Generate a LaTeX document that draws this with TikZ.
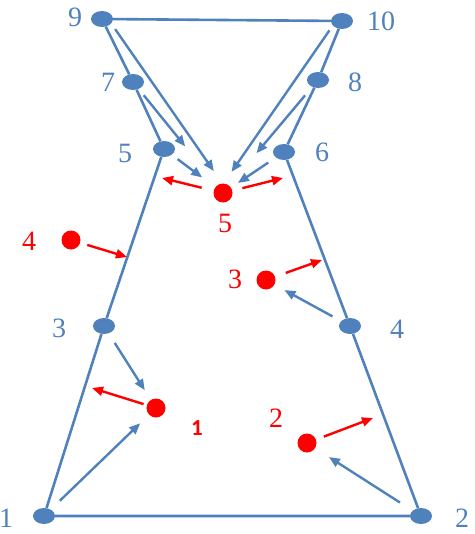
\documentclass[tikz,border=0pt]{standalone}
\usepackage{fontspec}
\setmainfont{Liberation Serif}
\newfontfamily\numfont{Carlito}
\usetikzlibrary{calc,arrows.meta,shapes.geometric}
\definecolor{cus-blue}{RGB}{79,129,189}
\definecolor{cus-red}{RGB}{255,0,0}

\begin{document}
\begin{tikzpicture}[x=1pt,y=-1pt,
	bdot/.style={ellipse,fill=cus-blue,minimum width=22pt,minimum height=16pt,inner sep=0pt},
	rdot/.style={circle,fill=cus-red,minimum size=19pt,inner sep=0pt},
	blab/.style={text=cus-blue,anchor=base,inner sep=0pt,font=\fontsize{28}{30}\selectfont},
	rlab/.style={text=cus-red,anchor=base,inner sep=0pt,font=\fontsize{28}{30}\selectfont},
	edge/.style={draw=cus-blue,line width=2.6pt},
	flow/.style={draw=cus-blue,line width=2.4pt,-{Triangle[length=11pt,width=9pt]}},
	push/.style={draw=cus-red,line width=2.4pt,-{Triangle[length=11pt,width=9pt]}}]
\useasboundingbox (0,0) rectangle (474,534);
\foreach \n/\x/\y in {1/44/516,2/421/516,3/104/326,4/350/326,5/164/149,6/284/152,7/133/82,8/318/80,9/102/19,10/342/21}{
	\node[bdot] (b\n) at (\x,\y) {};
}
\foreach \n/\x/\y in {1/6/527,2/462/527,3/59/337,4/397/338,5/125/163,6/322/162,7/108/92,8/355/92,9/75/27,10/381/31}{
	\node[blab] (lb\n) at (\x,\y) {\n};
}
\foreach \n/\x/\y in {1/156/408,2/307/443,3/266/280,4/71/240,5/223/193}{
	\node[rdot] (r\n) at (\x,\y) {};
}
\foreach \n/\x/\y in {2/276/427,3/235/288,4/29/250,5/225/233}{
	\node[rlab] (lr\n) at (\x,\y) {\n};
}
\node[rlab,font=\numfont\bfseries\fontsize{23}{25}\selectfont] (lr1) at (197,435) {1};
\draw[edge] (b1) -- (b3) -- (b5) -- (b7) -- (b9) -- (b10) -- (b8) -- (b6) -- (b4) -- (b2) -- (b1);
\draw[flow,shorten <=16pt,shorten >=23pt,transform canvas={shift={(4pt,3pt)}}] (b9.center) -- (r5.center);
\draw[flow,shorten <=17pt,shorten >=60pt] (b7.center) -- (r5.center);
\draw[flow,shorten <=17pt,shorten >=26pt] (b5.center) -- (r5.center);
\draw[flow,shorten <=15pt,shorten >=22pt,transform canvas={shift={(-4pt,3pt)}}] (b10.center) -- (r5.center);
\draw[flow,shorten <=20pt,shorten >=52pt] (b8.center) -- (r5.center);
\draw[flow,shorten <=19pt,shorten >=18pt] (b6.center) -- (r5.center);
\draw[flow,shorten <=20pt,shorten >=21pt] (b3.center) -- (r1.center);
\draw[flow,shorten <=22pt,shorten >=22pt] (b1.center) -- (r1.center);
\draw[flow,shorten <=20pt,shorten >=21pt] (b4.center) -- (r3.center);
\draw[flow,shorten <=25pt,shorten >=26pt] (b2.center) -- (r2.center);
\coordinate (t5a) at (162,178);
\coordinate (t5b) at (283,178);
\coordinate (t4) at (127,257);
\coordinate (t3) at (322,260);
\coordinate (t1) at (92,388);
\coordinate (t2) at (373,418);
\draw[push,shorten <=22pt] (r5.center) -- (t5a);
\draw[push,shorten <=20pt] (r5.center) -- (t5b);
\draw[push,shorten <=17pt] (r4.center) -- (t4);
\draw[push,shorten <=21pt] (r3.center) -- (t3);
\draw[push,shorten <=13pt] (r1.center) -- (t1);
\draw[push,shorten <=18pt] (r2.center) -- (t2);
\end{tikzpicture}
\end{document}
